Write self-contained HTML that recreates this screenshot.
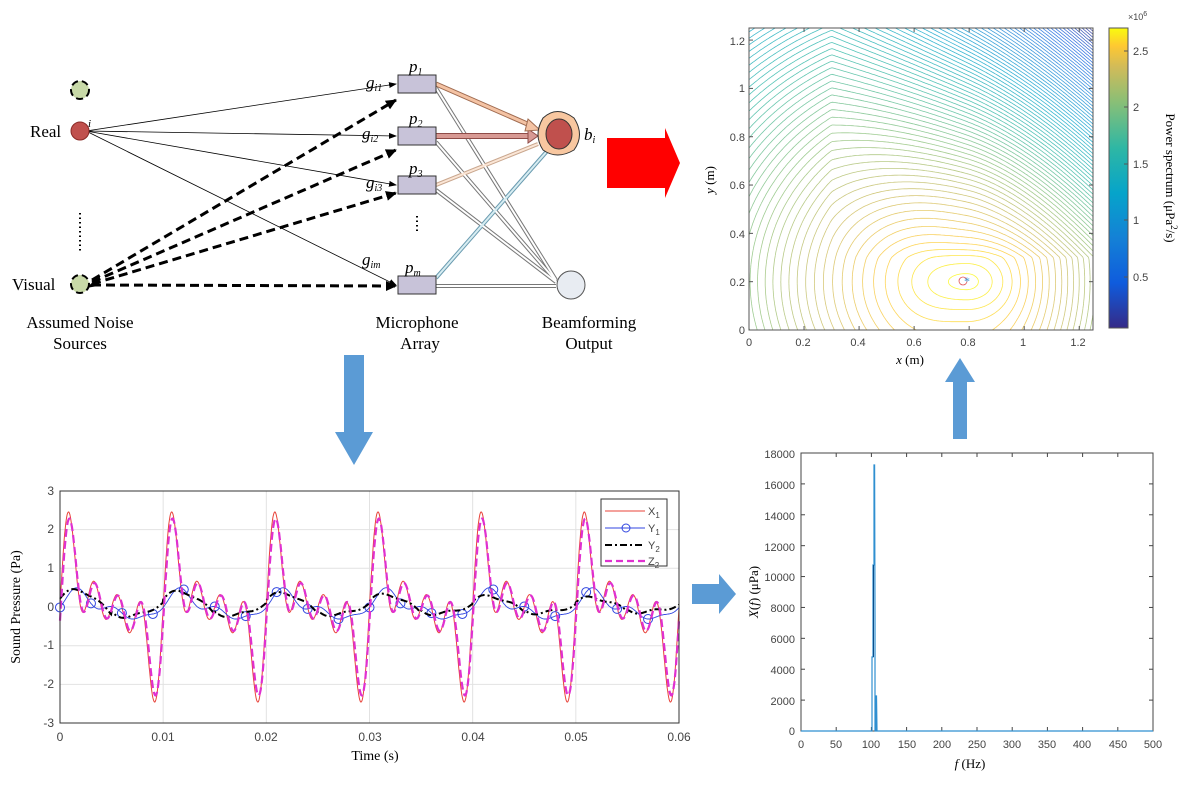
<!DOCTYPE html>
<html><head><meta charset="utf-8"><style>
html,body{margin:0;padding:0;background:#fff;}
svg{display:block;}
text{font-family:"Liberation Serif",serif;}
.s text{font-family:"Liberation Sans",sans-serif;fill:#444;}
</style></head><body>
<svg id="sv" width="1200" height="792" viewBox="0 0 1200 792" xmlns="http://www.w3.org/2000/svg">
<defs>
<marker id="ah" markerWidth="8" markerHeight="8" refX="7" refY="4" orient="auto" markerUnits="userSpaceOnUse"><path d="M0,1 L8,4 L0,7 z" fill="#000"/></marker>
<marker id="ahb" markerWidth="12" markerHeight="12" refX="10" refY="6" orient="auto" markerUnits="userSpaceOnUse"><path d="M0,1 L11,6 L0,11 z" fill="#000"/></marker>
<linearGradient id="cb" x1="0" y1="1" x2="0" y2="0">
<stop offset="0" stop-color="#352a87"/><stop offset="0.15" stop-color="#0f5cdd"/><stop offset="0.3" stop-color="#1481d6"/><stop offset="0.45" stop-color="#06a4ca"/><stop offset="0.6" stop-color="#2eb7a4"/><stop offset="0.75" stop-color="#87bf77"/><stop offset="0.87" stop-color="#d1bb59"/><stop offset="0.94" stop-color="#fec832"/><stop offset="1" stop-color="#f9fb0e"/>
</linearGradient>
</defs>

<g id="diag">
<g stroke="#000" stroke-width="0.8" fill="none" marker-end="url(#ah)">
<line x1="86" y1="131" x2="396" y2="84"/>
<line x1="86" y1="131" x2="396" y2="136"/>
<line x1="86" y1="131" x2="396" y2="185"/>
<line x1="86" y1="131" x2="396" y2="285"/>
</g>
<g stroke="#000" stroke-width="3" stroke-dasharray="9,5" fill="none" marker-end="url(#ahb)">
<line x1="92" y1="280" x2="396" y2="100"/>
<line x1="92" y1="282" x2="396" y2="150"/>
<line x1="92" y1="284" x2="396" y2="193"/>
<line x1="92" y1="285" x2="396" y2="286"/>
</g>
<path d="M86,288 L100,276 L98,286 z" fill="#000"/>
<g stroke="#777" stroke-width="4" fill="none">
<line x1="436" y1="88" x2="556" y2="280"/><line x1="436" y1="142" x2="556" y2="281"/><line x1="436" y1="190" x2="556" y2="282"/><line x1="436" y1="286" x2="556" y2="286"/>
<line x1="436" y1="278" x2="548" y2="150" stroke="#6a9bb0"/>
<line x1="436" y1="185" x2="538" y2="144" stroke="#c9a78f"/>
</g>
<g stroke="#fff" stroke-width="2" fill="none">
<line x1="436" y1="88" x2="556" y2="280"/><line x1="436" y1="142" x2="556" y2="281"/><line x1="436" y1="190" x2="556" y2="282"/><line x1="436" y1="286" x2="556" y2="286"/>
<line x1="436" y1="278" x2="548" y2="150" stroke="#d7edf2"/>
<line x1="436" y1="185" x2="538" y2="144" stroke="#fbe6d6"/>
</g>
<line x1="436" y1="84" x2="532" y2="126" stroke="#a06b50" stroke-width="5"/>
<line x1="436" y1="84" x2="532" y2="126" stroke="#f4c3a4" stroke-width="3"/>
<line x1="436" y1="136" x2="528" y2="136" stroke="#8f4c48" stroke-width="6"/>
<line x1="436" y1="136" x2="528" y2="136" stroke="#d89a94" stroke-width="4"/>
<path d="M528,129 L538,136 L528,143 z" fill="#d89a94" stroke="#8f4c48"/>
<path d="M528,119 L540,130 L525,131 z" fill="#f4c3a4" stroke="#a06b50"/>
<g fill="#c8c3d9" stroke="#333" stroke-width="1">
<rect x="398" y="75" width="38" height="18"/>
<rect x="398" y="127" width="38" height="18"/>
<rect x="398" y="176" width="38" height="18"/>
<rect x="398" y="276" width="38" height="18"/>
</g>
<circle cx="80" cy="90" r="9" fill="#c8d9a8" stroke="#000" stroke-width="2" stroke-dasharray="7,4"/>
<circle cx="80" cy="131" r="9" fill="#c0504d" stroke="#8a2a27"/>
<circle cx="80" cy="284" r="9" fill="#c8d9a8" stroke="#000" stroke-width="2" stroke-dasharray="7,4"/>
<path d="M80,213 v40" stroke="#000" stroke-width="2" stroke-dasharray="1.5,3"/>
<path d="M417,216 v18" stroke="#000" stroke-width="2" stroke-dasharray="1.5,3"/>
<path d="M543,118 Q557,105 574,118 Q585,135 574,150 Q557,160 543,150 Q533,135 543,118z" fill="#f8c7a0" stroke="#333"/>
<ellipse cx="559" cy="134" rx="13" ry="15" fill="#c0504d" stroke="#333"/>
<ellipse cx="571" cy="285" rx="14" ry="14" fill="#e8ecf2" stroke="#555"/>
<g font-size="17" fill="#000">
<text x="30" y="137">Real</text>
<text x="88" y="127" font-size="11" font-style="italic">i</text>
<text x="12" y="290">Visual</text>
<text x="80" y="328" text-anchor="middle">Assumed Noise</text>
<text x="80" y="349" text-anchor="middle">Sources</text>
<text x="417" y="328" text-anchor="middle">Microphone</text>
<text x="420" y="349" text-anchor="middle">Array</text>
<text x="589" y="328" text-anchor="middle">Beamforming</text>
<text x="589" y="349" text-anchor="middle">Output</text>
<g font-style="italic">
<text x="409" y="72">p<tspan font-size="10" dy="3">1</tspan></text>
<text x="409" y="124">p<tspan font-size="10" dy="3">2</tspan></text>
<text x="409" y="174">p<tspan font-size="10" dy="3">3</tspan></text>
<text x="405" y="273">p<tspan font-size="10" dy="3">m</tspan></text>
<text x="366" y="88">g<tspan font-size="10" dy="3">i1</tspan></text>
<text x="362" y="139">g<tspan font-size="10" dy="3">i2</tspan></text>
<text x="366" y="188">g<tspan font-size="10" dy="3">i3</tspan></text>
<text x="362" y="265">g<tspan font-size="10" dy="3">im</tspan></text>
<text x="584" y="140">b<tspan font-size="10" dy="3">i</tspan></text>
</g>
</g>
</g>

<path d="M607,138 L665,138 L665,128 L680,163 L665,198 L665,188 L607,188 z" fill="#ff0000"/>
<path d="M344,355 h20 v77 h9 l-19,33 l-19,-33 h9 z" fill="#5b9bd5"/>
<path d="M953,439 v-57 h-8 l15,-24 l15,24 h-8 v57 z" fill="#5b9bd5"/>
<path d="M692,584 h27 v-10 l17,20 l-17,20 v-10 h-27 z" fill="#5b9bd5"/>

<g id="contour"></g>
<rect x="749" y="28" width="344" height="302" fill="none" stroke="#555" stroke-width="1"/>
<g id="ctick" stroke="#555"></g>
<g class="s" font-size="11">
<text x="745" y="45" text-anchor="end">1.2</text>
<text x="745" y="92" text-anchor="end">1</text>
<text x="745" y="141" text-anchor="end">0.8</text>
<text x="745" y="189" text-anchor="end">0.6</text>
<text x="745" y="238" text-anchor="end">0.4</text>
<text x="745" y="286" text-anchor="end">0.2</text>
<text x="745" y="334" text-anchor="end">0</text>
<text x="749" y="346" text-anchor="middle">0</text>
<text x="803" y="346" text-anchor="middle">0.2</text>
<text x="858" y="346" text-anchor="middle">0.4</text>
<text x="914" y="346" text-anchor="middle">0.6</text>
<text x="968" y="346" text-anchor="middle">0.8</text>
<text x="1023" y="346" text-anchor="middle">1</text>
<text x="1078" y="346" text-anchor="middle">1.2</text>
</g>
<text x="910" y="364" font-size="13" text-anchor="middle"><tspan font-style="italic">x</tspan> (m)</text>
<text transform="translate(714,180) rotate(-90)" font-size="13" text-anchor="middle"><tspan font-style="italic">y</tspan> (m)</text>
<circle cx="963" cy="281" r="4" fill="none" stroke="#e05050" stroke-width="0.8"/>
<text x="967" y="285" font-size="12" fill="#3ba0e0" text-anchor="middle" font-family="Liberation Sans">*</text>
<rect x="1109" y="28" width="19" height="300" fill="url(#cb)" stroke="#555"/>
<g stroke="#555"><line x1="1124" y1="51" x2="1128" y2="51"/><line x1="1124" y1="107" x2="1128" y2="107"/><line x1="1124" y1="164" x2="1128" y2="164"/><line x1="1124" y1="220" x2="1128" y2="220"/><line x1="1124" y1="277" x2="1128" y2="277"/></g>
<g class="s" font-size="11">
<text x="1133" y="55">2.5</text><text x="1133" y="111">2</text><text x="1133" y="168">1.5</text><text x="1133" y="224">1</text><text x="1133" y="281">0.5</text>
<text x="1128" y="20" font-size="9">×10<tspan font-size="7" dy="-4">6</tspan></text>
</g>
<text transform="translate(1166,178) rotate(90)" font-size="13" text-anchor="middle">Power spectrum  (μPa<tspan font-size="9" dy="-5">2</tspan><tspan dy="5">/s)</tspan></text>

<rect x="60" y="491" width="619" height="232" fill="#fff"/>
<g id="tgrid" stroke="#e2e2e2" stroke-width="1"></g>
<g id="tseries"></g>
<rect x="60" y="491" width="619" height="232" fill="none" stroke="#333"/>
<g class="s" font-size="12">
<text x="54" y="495" text-anchor="end">3</text><text x="54" y="533" text-anchor="end">2</text><text x="54" y="572" text-anchor="end">1</text><text x="54" y="611" text-anchor="end">0</text><text x="54" y="649" text-anchor="end">-1</text><text x="54" y="688" text-anchor="end">-2</text><text x="54" y="727" text-anchor="end">-3</text>
<text x="60" y="741" text-anchor="middle">0</text><text x="163" y="741" text-anchor="middle">0.01</text><text x="266" y="741" text-anchor="middle">0.02</text><text x="370" y="741" text-anchor="middle">0.03</text><text x="473" y="741" text-anchor="middle">0.04</text><text x="576" y="741" text-anchor="middle">0.05</text><text x="679" y="741" text-anchor="middle">0.06</text>
</g>
<text x="375" y="760" font-size="14" text-anchor="middle">Time (s)</text>
<text transform="translate(20,607) rotate(-90)" font-size="14" text-anchor="middle">Sound Pressure (Pa)</text>
<rect x="601" y="499" width="66" height="67" fill="#fff" stroke="#333"/>
<g stroke-width="1">
<line x1="605" y1="511" x2="645" y2="511" stroke="#e8433a"/>
<line x1="605" y1="528" x2="645" y2="528" stroke="#3045e0"/><circle cx="626" cy="528" r="4" fill="none" stroke="#3045e0"/>
<line x1="605" y1="545" x2="645" y2="545" stroke="#000" stroke-width="2" stroke-dasharray="7,3,2,3"/>
<line x1="605" y1="561" x2="645" y2="561" stroke="#e030d0" stroke-width="2.2" stroke-dasharray="7,4"/>
</g>
<g class="s" font-size="11">
<text x="648" y="515">X<tspan font-size="8" dy="3">1</tspan></text>
<text x="648" y="532">Y<tspan font-size="8" dy="3">1</tspan></text>
<text x="648" y="549">Y<tspan font-size="8" dy="3">2</tspan></text>
<text x="648" y="565">Z<tspan font-size="8" dy="3">2</tspan></text>
</g>

<rect x="801" y="453" width="352" height="278" fill="none" stroke="#444"/>
<g id="stick" stroke="#444"></g>
<g class="s" font-size="11">
<text x="795" y="458" text-anchor="end">18000</text><text x="795" y="489" text-anchor="end">16000</text><text x="795" y="520" text-anchor="end">14000</text><text x="795" y="551" text-anchor="end">12000</text><text x="795" y="581" text-anchor="end">10000</text><text x="795" y="612" text-anchor="end">8000</text><text x="795" y="643" text-anchor="end">6000</text><text x="795" y="674" text-anchor="end">4000</text><text x="795" y="705" text-anchor="end">2000</text><text x="795" y="735" text-anchor="end">0</text>
<text x="801" y="748" text-anchor="middle">0</text><text x="836" y="748" text-anchor="middle">50</text><text x="871" y="748" text-anchor="middle">100</text><text x="907" y="748" text-anchor="middle">150</text><text x="942" y="748" text-anchor="middle">200</text><text x="977" y="748" text-anchor="middle">250</text><text x="1012" y="748" text-anchor="middle">300</text><text x="1047" y="748" text-anchor="middle">350</text><text x="1082" y="748" text-anchor="middle">400</text><text x="1118" y="748" text-anchor="middle">450</text><text x="1153" y="748" text-anchor="middle">500</text>
</g>
<text x="970" y="768" font-size="13" text-anchor="middle"><tspan font-style="italic">f</tspan> (Hz)</text>
<text transform="translate(758,592) rotate(-90)" font-size="13" text-anchor="middle"><tspan font-style="italic">X</tspan>(<tspan font-style="italic">f</tspan>) (μPa)</text>
<polyline points="801,731 871,731 872,731 872,657 873,657 873,565 874,565 874,465 874.6,465 875,620 875,731 876,731 876,696 876.5,696 877,731 1153,731" fill="none" stroke="#2f8fd0" stroke-width="1.2"/>
<line x1="873.5" y1="657" x2="873.5" y2="565" stroke="#0b4d8a" stroke-width="1"/>
</svg>
<script>
(function(){
var NS="http://www.w3.org/2000/svg";
function el(t,a,p){var e=document.createElementNS(NS,t);for(var k in a)e.setAttribute(k,a[k]);p.appendChild(e);return e;}
function V(x,y){var dx0=x-0.79,dy0=y-0.2;var r0=Math.sqrt(dx0*dx0+dy0*dy0);
 var dx=dx0>0?dx0*1.5:dx0;var s=1+1*Math.exp(-(r0/0.2)*(r0/0.2));var dy=dy0*s;
 var r=Math.sqrt(dx*dx+dy*dy);
 return 2.7-0.95*Math.pow(r,1.5)-1.4*Math.max(0,x-0.3)*Math.max(0,y-0.3);}
var stops=[[0,53,42,135],[0.15,15,92,221],[0.3,20,129,214],[0.45,6,164,202],[0.6,46,183,164],[0.75,135,191,119],[0.87,209,187,89],[0.94,254,200,50],[1,249,251,14]];
function col(t){t=Math.max(0,Math.min(1,t));for(var i=1;i<stops.length;i++){if(t<=stops[i][0]){var a=stops[i-1],b=stops[i],f=(t-a[0])/(b[0]-a[0]);
 return "rgb("+[1,2,3].map(function(j){return Math.round(a[j]+(b[j]-a[j])*f)}).join(",")+")";}}return "rgb(249,251,14)";}
var N=170,g=[],x0=749,y0=330,sx=344/1.25,sy=302/1.25;
for(var i=0;i<=N;i++){g[i]=[];for(var j=0;j<=N;j++)g[i][j]=V(1.25*i/N,1.25*j/N);}
var cg=document.getElementById("contour");
for(var L=0.1;L<2.69;L+=0.034){var d="";
 for(var i=0;i<N;i++)for(var j=0;j<N;j++){
  var c=[[i,j],[i+1,j],[i+1,j+1],[i,j+1]],pts=[];
  for(var k=0;k<4;k++){var a=c[k],b=c[(k+1)%4],va=g[a[0]][a[1]]-L,vb=g[b[0]][b[1]]-L;
   if((va<0)!=(vb<0)){var f=va/(va-vb);var xi=a[0]+(b[0]-a[0])*f,yj=a[1]+(b[1]-a[1])*f;
    pts.push([x0+xi*1.25/N*sx,y0-yj*1.25/N*sy]);}}
  if(pts.length>=2)d+="M"+pts[0][0].toFixed(1)+","+pts[0][1].toFixed(1)+"L"+pts[1][0].toFixed(1)+","+pts[1][1].toFixed(1);
  if(pts.length==4)d+="M"+pts[2][0].toFixed(1)+","+pts[2][1].toFixed(1)+"L"+pts[3][0].toFixed(1)+","+pts[3][1].toFixed(1);
 }
 el("path",{d:d,stroke:col((L-0.05)/2.65),"stroke-width":0.8,fill:"none","stroke-opacity":0.8},cg);}
var ct=document.getElementById("ctick");
[0,0.2,0.4,0.6,0.8,1,1.2].forEach(function(v){var x=x0+v*sx,y=y0-v*sy;
 el("line",{x1:x,y1:330,x2:x,y2:326},ct);el("line",{x1:x,y1:28,x2:x,y2:32},ct);
 el("line",{x1:749,y1:y,x2:753,y2:y},ct);el("line",{x1:1093,y1:y,x2:1089,y2:y},ct);});
function tx(t){return 60+t/0.06*619;} function ty(v){return 607-v*38.7;}
var tg=document.getElementById("tgrid");
for(var k=1;k<6;k++)el("line",{x1:tx(k*0.01),y1:491,x2:tx(k*0.01),y2:723},tg);
for(var v=-2;v<=2;v++)el("line",{x1:60,y1:ty(v),x2:679,y2:ty(v)},tg);
var w=2*Math.PI*100;
function X1(t){var s=0;for(var k=1;k<=4;k++)s+=Math.sin(k*w*t);return 0.76*s;}
function Z2(t){return 0.93*X1(t-0.00008);}
function Y1(t){return 0.3*Math.sin(w*t+0.3)+0.12*Math.sin(2*w*t)-0.1*Math.cos(w*t*3);}
function Y2(t){var p=(t%0.01)/0.01;return (0.45-4*t)*Math.sin(2*Math.PI*p+0.5)*(p<0.5?1:0.6)+0.05*Math.sin(3*w*t);}
var ts=document.getElementById("tseries");
function line(f,attrs){var s="";for(var i=0;i<=1200;i++){var t=0.06*i/1200;s+=(i?"L":"M")+tx(t).toFixed(1)+","+ty(f(t)).toFixed(1);}attrs.d=s;attrs.fill="none";return el("path",attrs,ts);}
line(X1,{stroke:"#e8433a","stroke-width":1});
line(Y1,{stroke:"#3045e0","stroke-width":0.9});
for(var t=0;t<=0.0575;t+=0.003)el("circle",{cx:tx(t),cy:ty(Y1(t)),r:4.5,fill:"none",stroke:"#3045e0"},ts);
line(Y2,{stroke:"#000","stroke-width":2,"stroke-dasharray":"7,3,2,3"});
line(Z2,{stroke:"#e030d0","stroke-width":2.2,"stroke-dasharray":"8,4"});
var st=document.getElementById("stick");
for(var f=50;f<500;f+=50){var x=801+f/500*352;el("line",{x1:x,y1:731,x2:x,y2:727},st);el("line",{x1:x,y1:453,x2:x,y2:457},st);}
for(var v=2000;v<18000;v+=2000){var y=731-v/18000*278;el("line",{x1:801,y1:y,x2:805,y2:y},st);el("line",{x1:1153,y1:y,x2:1149,y2:y},st);}
})();
</script>
</body></html>
